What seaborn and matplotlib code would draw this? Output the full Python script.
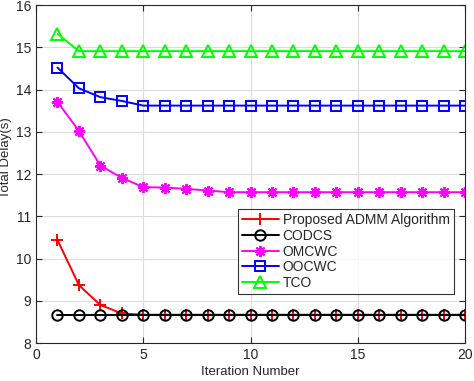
import matplotlib
matplotlib.use("Agg")
import matplotlib.pyplot as plt
import seaborn as sns
import pandas as pd
import numpy as np

iterations = list(range(1, 21))
proposed = [10.44, 9.37, 8.90, 8.70] + [8.67] * 16
codcs = [8.66] * 20
omcwc = [13.71, 13.02, 12.20, 11.91, 11.69, 11.68, 11.65, 11.61, 11.57] + [11.57] * 11
oocwc = [14.52, 14.03, 13.82, 13.73] + [13.62] * 16
tco = [15.32] + [14.91] * 19

names = ["Proposed ADMM Algorithm", "CODCS", "OMCWC", "OOCWC", "TCO"]
series = [proposed, codcs, omcwc, oocwc, tco]
colors = ["#ff0000", "#000000", "#ff00ff", "#0000ff", "#00ff00"]
markers = ["+", "o", (8, 2, 0), "s", "^"]
msizes = [8.5, 7.5, 8, 6.5, 8]

sns.set_style("ticks")
plt.rcParams['font.family'] = ['Liberation Sans', 'DejaVu Sans']

fig = plt.figure(figsize=(4.74, 3.81), dpi=100)
ax = fig.add_axes([0.076, 0.0997, 0.905, 0.887])

for name, vals, c, m, ms in zip(names, series, colors, markers, msizes):
    df = pd.DataFrame({"x": iterations, "y": vals})
    sns.lineplot(data=df, x="x", y="y", ax=ax, color=c, marker=m, markersize=ms,
                 markerfacecolor="none", markeredgecolor=c, markeredgewidth=1.4,
                 linewidth=1.4, label=name)

ax.set_xlim(0, 20)
ax.set_ylim(8, 16)
ax.set_xticks([0, 5, 10, 15, 20])
ax.set_yticks(range(8, 17))
ax.grid(True, color="#dcdcdc", linewidth=0.8)
ax.set_axisbelow(True)
ax.tick_params(direction="in", top=True, right=True, labelsize=10, length=4,
               color="#262626", labelcolor="#262626")
for s in ax.spines.values():
    s.set_color("#262626")
    s.set_linewidth(0.8)
ax.set_xlabel("Iteration Number", fontsize=9.5, color="#262626", labelpad=3)
ax.set_ylabel("Total Delay(s)", fontsize=9.5, color="#262626")
ax.yaxis.set_label_coords(-0.056, 0.55)

leg = ax.legend(loc="lower right", bbox_to_anchor=(0.974, 0.145), fontsize=10, frameon=True,
                fancybox=False, edgecolor="black", handlelength=2.6, handletextpad=0.3,
                borderpad=0.3, labelspacing=0.12, borderaxespad=0.0)
leg.get_frame().set_linewidth(0.8)

fig.savefig("out.png", dpi=100)
